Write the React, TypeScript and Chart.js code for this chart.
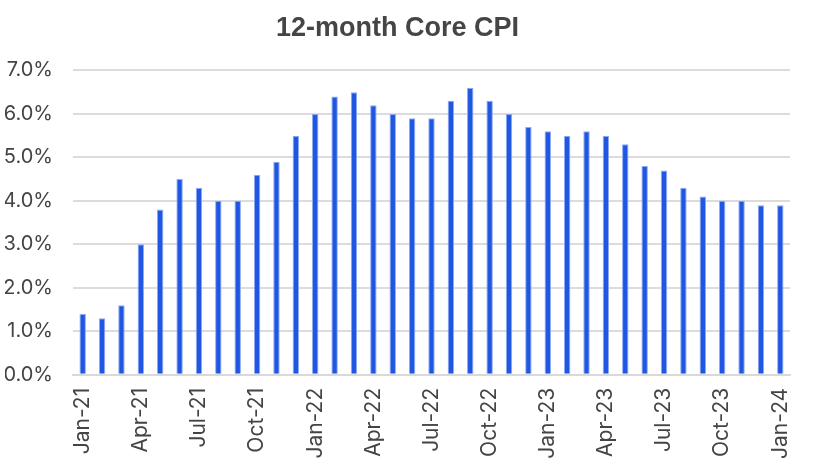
import React, { useEffect, useRef } from "react";
import { Chart, registerables } from "chart.js";

Chart.register(...registerables);

const months: string[] = [
  "Jan-21", "Feb-21", "Mar-21", "Apr-21", "May-21", "Jun-21", "Jul-21", "Aug-21", "Sep-21", "Oct-21", "Nov-21", "Dec-21",
  "Jan-22", "Feb-22", "Mar-22", "Apr-22", "May-22", "Jun-22", "Jul-22", "Aug-22", "Sep-22", "Oct-22", "Nov-22", "Dec-22",
  "Jan-23", "Feb-23", "Mar-23", "Apr-23", "May-23", "Jun-23", "Jul-23", "Aug-23", "Sep-23", "Oct-23", "Nov-23", "Dec-23",
  "Jan-24",
];

const coreCpi: number[] = [
  1.4, 1.3, 1.6, 3.0, 3.8, 4.5, 4.3, 4.0, 4.0, 4.6, 4.9, 5.5,
  6.0, 6.4, 6.5, 6.2, 6.0, 5.9, 5.9, 6.3, 6.6, 6.3, 6.0, 5.7,
  5.6, 5.5, 5.6, 5.5, 5.3, 4.8, 4.7, 4.3, 4.1, 4.0, 4.0, 3.9,
  3.9,
];

const titleText = "12-month Core CPI";

export default function App() {
  const ref = useRef<HTMLCanvasElement | null>(null);

  useEffect(() => {
    document.body.style.margin = "0";
    const canvas = ref.current;
    if (!canvas) return;
    const chart = new Chart(canvas, {
      type: "bar",
      data: {
        labels: months,
        datasets: [
          {
            label: "Core CPI",
            data: coreCpi,
            backgroundColor: "#1f57e3",
            borderColor: "#8fabf3",
            borderWidth: 1,
            barPercentage: 0.9,
            categoryPercentage: 0.37,
          },
        ],
      },
      options: {
        animation: false,
        responsive: false,
        maintainAspectRatio: false,
        layout: { padding: { left: 5, right: 50, top: 0, bottom: 0 } },
        plugins: {
          legend: { display: false },
          tooltip: { enabled: false },
          title: {
            display: true,
            text: titleText,
            color: "#454545",
            font: { family: "'Liberation Sans', Arial, sans-serif", size: 27, weight: "bold" },
            padding: { top: 12, bottom: 26 },
          },
        },
        scales: {
          x: {
            afterFit: (scale: any) => {
              scale.paddingLeft = 0;
              scale.paddingRight = 0;
            },
            grid: { display: false, drawTicks: false },
            border: { display: true, color: "#d9d9d9", width: 2 },
            ticks: {
              autoSkip: false,
              maxRotation: 90,
              minRotation: 90,
              padding: 13,
              color: "#444444",
              font: { family: "Inter, sans-serif", size: 21 },
              callback: (_v: any, i: number) => (i % 3 === 0 ? months[i] : ""),
            },
          },
          y: {
            min: 0,
            max: 7,
            afterFit: (scale: any) => {
              scale.width = 68;
            },
            ticks: {
              stepSize: 1,
              padding: 20,
              color: "#444444",
              font: { family: "Inter, sans-serif", size: 20 },
              callback: (v: any) => Number(v).toFixed(1) + "%",
            },
            grid: { color: "#dcdcdc", lineWidth: 2, drawTicks: false },
            border: { display: false },
          },
        },
      },
    });
    return () => chart.destroy();
  }, []);

  return (
    <div style={{ width: 840, height: 472, background: "#ffffff" }}>
      <canvas ref={ref} width={840} height={472} style={{ display: "block" }} />
    </div>
  );
}
